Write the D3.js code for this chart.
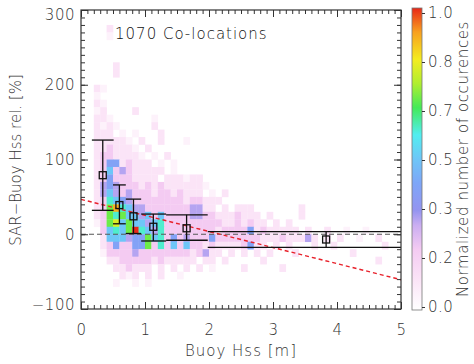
<!DOCTYPE html>
<html>
<head>
<meta charset="utf-8">
<script src="https://cdn.jsdelivr.net/npm/d3@7"></script>
<style>
  body { margin: 0; background: #fff; }
  svg text { font-family: "DejaVu Sans", sans-serif; font-weight: 200; fill: #333; }
</style>
</head>
<body>
<svg id="chart" width="474" height="364"></svg>
<script>
// 2D histogram, bins of 0.1 m (x) and 10 % (y); "i:v" = column i, level v (0 -> 0.05, v/10 otherwise)
const binX = 0.1;
const binY = 10;
const rowIndex = [27, 26, 22, 21, 19, 18, 17, 16, 15, 14, 13, 12, 11, 10, 9, 8, 7, 6, 5, 4, 3, 2, 1, 0, -1, -2, -3, -4, -5, -6, -7];
const rowCells = [
  "4:1",
  "4:0",
  "5:1",
  "5:1",
  "2:1 3:0",
  "2:0",
  "2:1 3:0",
  "2:0 3:1 8:1",
  "2:1 3:1 4:0 11:0",
  "2:1 3:0 4:1 5:0 11:1",
  "2:1 3:1 4:1 6:0 8:0 12:1",
  "2:1 3:1 4:1 5:1 6:1 7:0 9:1 12:1 16:0",
  "2:1 3:1 4:2 5:1 6:1 7:1 8:0 10:1",
  "2:1 3:2 4:2 5:1 6:1 7:1 8:1 9:0 11:0 13:1",
  "2:1 3:2 4:4 5:4 6:1 7:2 8:1 9:1 10:1 12:0 14:0",
  "2:1 3:2 4:5 5:2 6:3 7:2 8:1 9:1 10:1 11:1 12:1 14:0",
  "2:1 3:2 4:4 5:2 6:2 7:2 8:1 9:1 10:1 11:1 13:1 14:1 15:1 16:0 17:1 18:1",
  "2:1 3:3 4:4 5:3 6:2 7:2 8:2 9:1 10:2 11:1 12:2 13:1 14:1 15:1 16:1 17:1 18:1 19:0",
  "2:1 3:3 4:5 5:3 6:2 7:3 8:2 9:2 10:2 11:1 12:2 13:2 14:1 15:2 16:1 17:1 18:1 20:0 22:1",
  "2:1 3:2 4:6 5:5 6:4 7:3 8:2 9:2 10:2 11:2 12:2 13:2 14:2 15:2 16:1 17:2 18:2 19:1 20:1 21:1",
  "2:1 3:2 4:7 5:9 6:6 7:5 8:3 9:3 10:2 11:2 12:2 13:2 14:2 15:2 16:2 17:3 18:3 19:1 20:1 22:1 24:1 25:1 26:1 34:1",
  "2:1 3:2 4:7 5:6 6:7 7:5 8:5 9:3 10:5 11:2 12:5 13:2 14:2 15:2 16:2 17:3 18:3 19:2 20:2 21:1 22:1 23:1 24:2 25:1 26:1 27:1 29:1 34:1",
  "2:0 3:2 4:7 5:8 6:5 7:7 8:5 9:5 10:3 11:5 12:6 13:2 14:2 15:2 16:2 17:2 18:2 19:2 20:2 21:2 22:1 23:1 24:2 25:1 26:2 27:1 28:1 30:1 32:1",
  "3:2 4:5 5:6 6:5 7:7 8:10 9:6 10:5 11:3 12:6 13:2 14:2 15:2 16:2 17:2 18:2 19:2 20:2 21:1 22:2 23:2 24:2 25:2 26:4 27:1 28:2 29:1 30:1 31:1 32:1 33:1 35:1 38:1 41:0 44:0",
  "3:1 4:5 5:5 6:5 7:3 8:4 9:4 10:7 11:5 12:6 13:2 14:4 15:2 16:3 17:2 18:2 19:2 20:4 21:2 22:2 23:2 24:2 25:2 26:2 27:2 28:1 29:1 30:1 31:2 32:1 33:1 34:1 35:3 36:1 38:1 40:1 43:0 46:1",
  "3:1 4:2 5:4 6:2 7:2 8:4 9:4 10:7 11:2 12:6 13:2 14:5 15:2 16:5 17:2 18:2 19:1 20:2 21:1 22:1 23:1 24:1 25:2 26:4 27:1 28:1 30:1 32:1 36:1 39:1 47:1",
  "3:0 4:2 5:2 6:2 7:2 8:3 9:2 10:2 11:2 12:2 13:2 14:2 15:2 16:2 17:1 18:2 19:3 20:1 21:1 23:1 25:1 27:1 29:1 33:1 42:1",
  "4:1 5:1 6:2 7:2 8:2 9:2 10:2 11:1 12:2 13:1 14:1 15:1 16:1 17:1 19:1 20:1 22:1 28:1 46:1",
  "5:1 6:1 7:2 8:1 9:1 10:1 12:1 14:1 16:1 18:1 20:0 25:1 31:1",
  "6:1 7:0 8:1 10:1 12:1 15:0",
  "5:0 8:0 10:0"
];

// binned means with spread
const meanX = [0.34, 0.60, 0.82, 1.13, 1.65, 3.83];
const meanY = [79, 39, 24, 10, 8, -7];
const errLow = [32, 14, 1, -9, -8, -17.5];
const errHigh = [126, 66, 47, 27, 26, 3.5];
const binLo = [0.17, 0.5, 0.7, 0.94, 1.33, 1.98];
const binHi = [0.51, 0.7, 0.94, 1.33, 1.98, 5];

// regression line
const fitIntercept = 46.7;
const fitSlope = -21.5;

const colorStops = [0, 0.1, 0.2, 0.28, 0.33, 0.42, 0.5, 0.58, 0.67, 0.75, 0.83, 0.92, 1];
const colorValues = ["#ffffff", "#fbe4f7", "#f4cbf2", "#cbaef1", "#9494f0", "#7ea6f8", "#6ec6f8",
  "#52eef0", "#44ea58", "#b0ee30", "#f4ec20", "#f8a020", "#e82818"];
const cbarTicks = [0, 1 / 6, 2 / 6, 3 / 6, 4 / 6, 5 / 6, 1];

const svg = d3.select("#chart");
const x = d3.scaleLinear().domain([0, 5]).range([81, 401]);
const y = d3.scaleLinear().domain([-100, 300]).range([309, 10]);
const color = d3.scaleLinear().domain(colorStops).range(colorValues).clamp(true);

// flatten the histogram
const cells = [];
rowIndex.forEach((j, r) => {
  rowCells[r].split(" ").forEach((c) => {
    const [i, v] = c.split(":").map(Number);
    cells.push({ i: i, j: j, v: v === 0 ? 0.05 : v / 10 });
  });
});

const plot = svg.append("g");
plot.selectAll("rect.cell")
  .data(cells)
  .enter()
  .append("rect")
  .attr("class", "cell")
  .attr("x", (d) => x(d.i * binX))
  .attr("y", (d) => y((d.j + 1) * binY))
  .attr("width", x(binX) - x(0) + 0.3)
  .attr("height", y(0) - y(binY) + 0.3)
  .attr("fill", (d) => color(d.v));

// zero line
plot.append("line")
  .attr("x1", x(0)).attr("x2", x(5))
  .attr("y1", y(0)).attr("y2", y(0))
  .attr("stroke", "#555")
  .attr("stroke-width", 1.2)
  .attr("stroke-dasharray", "5,3");

// fit line
plot.append("line")
  .attr("x1", x(0)).attr("x2", x(5))
  .attr("y1", y(fitIntercept)).attr("y2", y(fitIntercept + fitSlope * 5))
  .attr("stroke", "#e8202a")
  .attr("stroke-width", 1.4)
  .attr("stroke-dasharray", "4,3");

// error bars
const bars = plot.selectAll("g.bar")
  .data(meanX.map((m, k) => ({ x: m, y: meanY[k], lo: errLow[k], hi: errHigh[k], a: binLo[k], b: binHi[k] })))
  .enter()
  .append("g")
  .attr("class", "bar")
  .attr("stroke", "#111")
  .attr("stroke-width", 1.3)
  .attr("fill", "none");

bars.append("line")
  .attr("x1", (d) => x(d.x)).attr("x2", (d) => x(d.x))
  .attr("y1", (d) => y(d.lo)).attr("y2", (d) => y(d.hi));
bars.append("line")
  .attr("x1", (d) => x(d.a)).attr("x2", (d) => x(d.b))
  .attr("y1", (d) => y(d.hi)).attr("y2", (d) => y(d.hi));
bars.append("line")
  .attr("x1", (d) => x(d.a)).attr("x2", (d) => x(d.b))
  .attr("y1", (d) => y(d.lo)).attr("y2", (d) => y(d.lo));
bars.append("rect")
  .attr("x", (d) => x(d.x) - 3.5)
  .attr("y", (d) => y(d.y) - 3.5)
  .attr("width", 7)
  .attr("height", 7);

// axes: majors with labels, minors inward
function styleAxis(g) {
  g.select(".domain").remove();
  g.selectAll("line").attr("stroke", "#333");
  g.selectAll("text").attr("font-size", 15).attr("fill", "#333")
    .style("font-family", "'DejaVu Sans', sans-serif").style("font-weight", 200)
    .style("letter-spacing", "0.5px");
}

const yMajor = [-100, 0, 100, 200, 300];
const xMajor = [0, 1, 2, 3, 4, 5];

svg.append("g").attr("transform", "translate(81,0)")
  .call(d3.axisLeft(y).tickValues(yMajor).tickSize(-7).tickPadding(6).tickFormat((d) => (d < 0 ? "\u2212" + (-d) : d)))
  .call(styleAxis)
  .call((g) => g.selectAll("text").attr("y", (d) => (d === 300 ? 5 : d === -100 ? -4 : 0)));
svg.append("g").attr("transform", "translate(81,0)")
  .call(d3.axisLeft(y).tickValues(d3.range(-100, 301, 10)).tickSize(-4).tickFormat(""))
  .call(styleAxis);
svg.append("g").attr("transform", "translate(401,0)")
  .call(d3.axisRight(y).tickValues(yMajor).tickSize(-7).tickFormat(""))
  .call(styleAxis);
svg.append("g").attr("transform", "translate(401,0)")
  .call(d3.axisRight(y).tickValues(d3.range(-100, 301, 10)).tickSize(-4).tickFormat(""))
  .call(styleAxis);

svg.append("g").attr("transform", "translate(0,309)")
  .call(d3.axisBottom(x).tickValues(xMajor).tickSize(-7).tickPadding(15).tickFormat(d3.format("d")))
  .call(styleAxis);
svg.append("g").attr("transform", "translate(0,309)")
  .call(d3.axisBottom(x).tickValues(d3.range(0, 5.01, 0.1)).tickSize(-4).tickFormat(""))
  .call(styleAxis);
svg.append("g").attr("transform", "translate(0,10)")
  .call(d3.axisTop(x).tickValues(xMajor).tickSize(-7).tickFormat(""))
  .call(styleAxis);
svg.append("g").attr("transform", "translate(0,10)")
  .call(d3.axisTop(x).tickValues(d3.range(0, 5.01, 0.1)).tickSize(-4).tickFormat(""))
  .call(styleAxis);

// frame
svg.append("rect")
  .attr("x", 81).attr("y", 10)
  .attr("width", 320).attr("height", 299)
  .attr("fill", "none")
  .attr("stroke", "#333")
  .attr("stroke-width", 1.2);

// texts
svg.append("text")
  .attr("x", 115).attr("y", 39)
  .attr("font-size", 15)
  .style("letter-spacing", "1px")
  .style("fill", "#111")
  .text("1070 Co-locations");

svg.append("text")
  .attr("transform", "translate(21,160) rotate(-90)")
  .attr("text-anchor", "middle")
  .attr("font-size", 15)
  .text("SAR\u2212Buoy Hss rel. [%]");

svg.append("text")
  .attr("x", 241).attr("y", 356)
  .attr("text-anchor", "middle")
  .attr("font-size", 15)
  .style("letter-spacing", "1px")
  .text("Buoy Hss [m]");

// colour bar
const grad = svg.append("defs").append("linearGradient")
  .attr("id", "cbar")
  .attr("x1", 0).attr("y1", 1).attr("x2", 0).attr("y2", 0);
grad.selectAll("stop")
  .data(colorStops)
  .enter()
  .append("stop")
  .attr("offset", (d) => d)
  .attr("stop-color", (d, k) => colorValues[k]);

svg.append("rect")
  .attr("x", 412).attr("y", 8)
  .attr("width", 10).attr("height", 302)
  .attr("fill", "url(#cbar)")
  .attr("stroke", "#777")
  .attr("stroke-width", 0.8);

const cScale = d3.scaleLinear().domain([0, 1]).range([307, 13]);
svg.append("g").attr("transform", "translate(422,0)")
  .call(d3.axisRight(cScale).tickValues(cbarTicks).tickSize(3).tickPadding(3).tickFormat(d3.format(".1f")))
  .call(styleAxis);

svg.append("text")
  .attr("transform", "translate(468,159) rotate(-90)")
  .attr("text-anchor", "middle")
  .attr("font-size", 15)
  .style("letter-spacing", "0.6px")
  .text("Normalized number of occurences");
</script>
</body>
</html>
